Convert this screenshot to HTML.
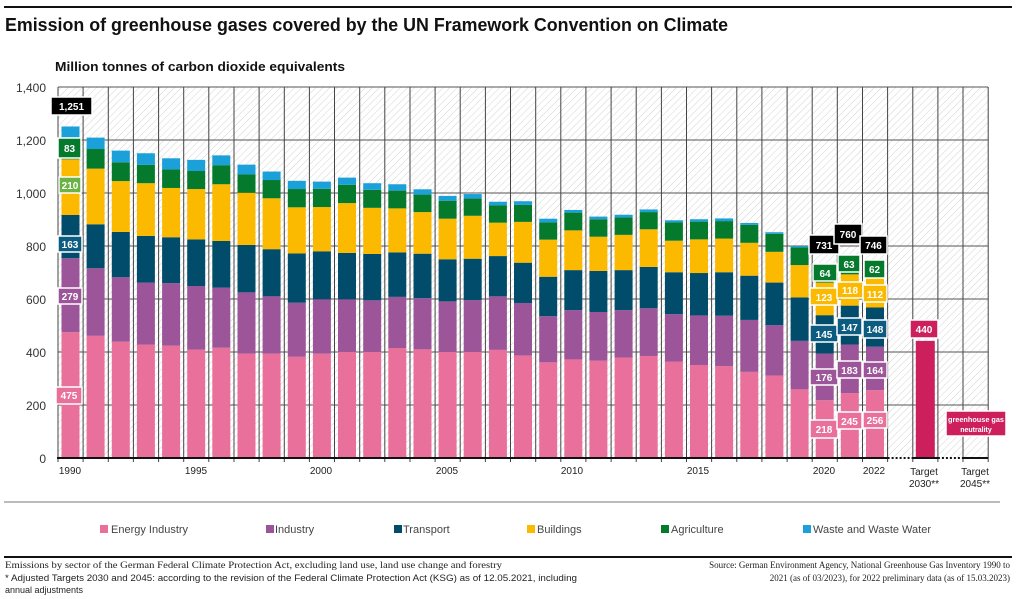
<!DOCTYPE html>
<html><head><meta charset="utf-8"><style>
html,body{margin:0;padding:0;background:#fff;}
svg{display:block;font-family:"Liberation Sans",sans-serif;}
.lb{font-size:10px;font-weight:bold;fill:#fff;text-anchor:middle;}
.ax{font-size:12px;fill:#333;text-anchor:end;}
.yr{font-size:10px;fill:#222;text-anchor:middle;}
.lg{font-size:11px;fill:#444;}
.ft{font-size:9px;fill:#222;}
</style></head><body>
<svg width="1024" height="599" viewBox="0 0 1024 599" xmlns="http://www.w3.org/2000/svg">
<defs>
<pattern id="h" width="5" height="5" patternUnits="userSpaceOnUse" patternTransform="rotate(45)">
<rect width="5" height="5" fill="#fff"/><line x1="0" y1="0" x2="0" y2="5" stroke="#d4d4d4" stroke-width="1"/>
</pattern>
</defs>
<line x1="4" y1="7" x2="1012" y2="7" stroke="#111" stroke-width="2"/>
<text x="5" y="31" font-size="18" font-weight="bold" fill="#111" textLength="723" lengthAdjust="spacingAndGlyphs">Emission of greenhouse gases covered by the UN Framework Convention on Climate</text>
<text x="55" y="71" font-size="13" font-weight="bold" fill="#111" textLength="290" lengthAdjust="spacingAndGlyphs">Million tonnes of carbon dioxide equivalents</text>

<rect x="58" y="87" width="930" height="371" fill="url(#h)"/>
<g stroke="#555" stroke-width="1">
<line x1="58" y1="87" x2="988" y2="87"/><line x1="58" y1="140" x2="988" y2="140"/><line x1="58" y1="193" x2="988" y2="193"/><line x1="58" y1="246" x2="988" y2="246"/><line x1="58" y1="299" x2="988" y2="299"/><line x1="58" y1="352" x2="988" y2="352"/><line x1="58" y1="405" x2="988" y2="405"/>
</g>
<g stroke="#444" stroke-width="1">
<line x1="58" y1="87" x2="58" y2="462"/><line x1="83.1" y1="87" x2="83.1" y2="462"/><line x1="108.3" y1="87" x2="108.3" y2="462"/><line x1="133.4" y1="87" x2="133.4" y2="462"/><line x1="158.6" y1="87" x2="158.6" y2="462"/><line x1="183.7" y1="87" x2="183.7" y2="462"/><line x1="208.8" y1="87" x2="208.8" y2="462"/><line x1="234" y1="87" x2="234" y2="462"/><line x1="259.1" y1="87" x2="259.1" y2="462"/><line x1="284.3" y1="87" x2="284.3" y2="462"/><line x1="309.4" y1="87" x2="309.4" y2="462"/><line x1="334.5" y1="87" x2="334.5" y2="462"/><line x1="359.7" y1="87" x2="359.7" y2="462"/><line x1="384.8" y1="87" x2="384.8" y2="462"/><line x1="410" y1="87" x2="410" y2="462"/><line x1="435.1" y1="87" x2="435.1" y2="462"/><line x1="460.2" y1="87" x2="460.2" y2="462"/><line x1="485.4" y1="87" x2="485.4" y2="462"/><line x1="510.5" y1="87" x2="510.5" y2="462"/><line x1="535.7" y1="87" x2="535.7" y2="462"/><line x1="560.8" y1="87" x2="560.8" y2="462"/><line x1="585.9" y1="87" x2="585.9" y2="462"/><line x1="611.1" y1="87" x2="611.1" y2="462"/><line x1="636.2" y1="87" x2="636.2" y2="462"/><line x1="661.4" y1="87" x2="661.4" y2="462"/><line x1="686.5" y1="87" x2="686.5" y2="462"/><line x1="711.6" y1="87" x2="711.6" y2="462"/><line x1="736.8" y1="87" x2="736.8" y2="462"/><line x1="761.9" y1="87" x2="761.9" y2="462"/><line x1="787.1" y1="87" x2="787.1" y2="462"/><line x1="812.2" y1="87" x2="812.2" y2="462"/><line x1="837.3" y1="87" x2="837.3" y2="462"/><line x1="862.5" y1="87" x2="862.5" y2="462"/><line x1="887.6" y1="87" x2="887.6" y2="462"/><line x1="912.8" y1="87" x2="912.8" y2="462"/><line x1="937.9" y1="87" x2="937.9" y2="462"/><line x1="963" y1="87" x2="963" y2="462"/><line x1="988.2" y1="87" x2="988.2" y2="462"/>
</g>

<g transform="translate(0,458) scale(1,-0.265)">
<g transform="translate(61.5,0)"><rect y="0" height="475" width="18" fill="#e8709a"/><rect y="475" height="279" width="18" fill="#9b5598"/><rect y="754" height="163" width="18" fill="#004c6a"/><rect y="917" height="210" width="18" fill="#fbb900"/><rect y="1127" height="83" width="18" fill="#067a2c"/><rect y="1210" height="41" width="18" fill="#1ba0d9"/></g>
<g transform="translate(86.6,0)"><rect y="0" height="461" width="18" fill="#e8709a"/><rect y="461" height="255" width="18" fill="#9b5598"/><rect y="716" height="166" width="18" fill="#004c6a"/><rect y="882" height="210" width="18" fill="#fbb900"/><rect y="1092" height="74" width="18" fill="#067a2c"/><rect y="1166" height="43" width="18" fill="#1ba0d9"/></g>
<g transform="translate(111.8,0)"><rect y="0" height="439" width="18" fill="#e8709a"/><rect y="439" height="243" width="18" fill="#9b5598"/><rect y="682" height="171" width="18" fill="#004c6a"/><rect y="853" height="192" width="18" fill="#fbb900"/><rect y="1045" height="71" width="18" fill="#067a2c"/><rect y="1116" height="44" width="18" fill="#1ba0d9"/></g>
<g transform="translate(136.9,0)"><rect y="0" height="428" width="18" fill="#e8709a"/><rect y="428" height="234" width="18" fill="#9b5598"/><rect y="662" height="176" width="18" fill="#004c6a"/><rect y="838" height="199" width="18" fill="#fbb900"/><rect y="1037" height="69" width="18" fill="#067a2c"/><rect y="1106" height="44" width="18" fill="#1ba0d9"/></g>
<g transform="translate(162.1,0)"><rect y="0" height="424" width="18" fill="#e8709a"/><rect y="424" height="236" width="18" fill="#9b5598"/><rect y="660" height="173" width="18" fill="#004c6a"/><rect y="833" height="186" width="18" fill="#fbb900"/><rect y="1019" height="70" width="18" fill="#067a2c"/><rect y="1089" height="42" width="18" fill="#1ba0d9"/></g>
<g transform="translate(187.2,0)"><rect y="0" height="409" width="18" fill="#e8709a"/><rect y="409" height="240" width="18" fill="#9b5598"/><rect y="649" height="176" width="18" fill="#004c6a"/><rect y="825" height="190" width="18" fill="#fbb900"/><rect y="1015" height="68" width="18" fill="#067a2c"/><rect y="1083" height="42" width="18" fill="#1ba0d9"/></g>
<g transform="translate(212.3,0)"><rect y="0" height="416" width="18" fill="#e8709a"/><rect y="416" height="227" width="18" fill="#9b5598"/><rect y="643" height="176" width="18" fill="#004c6a"/><rect y="819" height="214" width="18" fill="#fbb900"/><rect y="1033" height="72" width="18" fill="#067a2c"/><rect y="1105" height="37" width="18" fill="#1ba0d9"/></g>
<g transform="translate(237.5,0)"><rect y="0" height="394" width="18" fill="#e8709a"/><rect y="394" height="231" width="18" fill="#9b5598"/><rect y="625" height="179" width="18" fill="#004c6a"/><rect y="804" height="197" width="18" fill="#fbb900"/><rect y="1001" height="69" width="18" fill="#067a2c"/><rect y="1070" height="37" width="18" fill="#1ba0d9"/></g>
<g transform="translate(262.6,0)"><rect y="0" height="394" width="18" fill="#e8709a"/><rect y="394" height="216" width="18" fill="#9b5598"/><rect y="610" height="178" width="18" fill="#004c6a"/><rect y="788" height="192" width="18" fill="#fbb900"/><rect y="980" height="69" width="18" fill="#067a2c"/><rect y="1049" height="32" width="18" fill="#1ba0d9"/></g>
<g transform="translate(287.8,0)"><rect y="0" height="382" width="18" fill="#e8709a"/><rect y="382" height="204" width="18" fill="#9b5598"/><rect y="586" height="186" width="18" fill="#004c6a"/><rect y="772" height="174" width="18" fill="#fbb900"/><rect y="946" height="69" width="18" fill="#067a2c"/><rect y="1015" height="31" width="18" fill="#1ba0d9"/></g>
<g transform="translate(312.9,0)"><rect y="0" height="394" width="18" fill="#e8709a"/><rect y="394" height="205" width="18" fill="#9b5598"/><rect y="599" height="181" width="18" fill="#004c6a"/><rect y="780" height="167" width="18" fill="#fbb900"/><rect y="947" height="69" width="18" fill="#067a2c"/><rect y="1016" height="27" width="18" fill="#1ba0d9"/></g>
<g transform="translate(338,0)"><rect y="0" height="401" width="18" fill="#e8709a"/><rect y="401" height="198" width="18" fill="#9b5598"/><rect y="599" height="175" width="18" fill="#004c6a"/><rect y="774" height="188" width="18" fill="#fbb900"/><rect y="962" height="69" width="18" fill="#067a2c"/><rect y="1031" height="27" width="18" fill="#1ba0d9"/></g>
<g transform="translate(363.2,0)"><rect y="0" height="401" width="18" fill="#e8709a"/><rect y="401" height="194" width="18" fill="#9b5598"/><rect y="595" height="175" width="18" fill="#004c6a"/><rect y="770" height="174" width="18" fill="#fbb900"/><rect y="944" height="68" width="18" fill="#067a2c"/><rect y="1012" height="25" width="18" fill="#1ba0d9"/></g>
<g transform="translate(388.3,0)"><rect y="0" height="415" width="18" fill="#e8709a"/><rect y="415" height="193" width="18" fill="#9b5598"/><rect y="608" height="168" width="18" fill="#004c6a"/><rect y="776" height="166" width="18" fill="#fbb900"/><rect y="942" height="67" width="18" fill="#067a2c"/><rect y="1009" height="24" width="18" fill="#1ba0d9"/></g>
<g transform="translate(413.5,0)"><rect y="0" height="410" width="18" fill="#e8709a"/><rect y="410" height="193" width="18" fill="#9b5598"/><rect y="603" height="168" width="18" fill="#004c6a"/><rect y="771" height="157" width="18" fill="#fbb900"/><rect y="928" height="66" width="18" fill="#067a2c"/><rect y="994" height="20" width="18" fill="#1ba0d9"/></g>
<g transform="translate(438.6,0)"><rect y="0" height="401" width="18" fill="#e8709a"/><rect y="401" height="190" width="18" fill="#9b5598"/><rect y="591" height="159" width="18" fill="#004c6a"/><rect y="750" height="153" width="18" fill="#fbb900"/><rect y="903" height="68" width="18" fill="#067a2c"/><rect y="971" height="18" width="18" fill="#1ba0d9"/></g>
<g transform="translate(463.7,0)"><rect y="0" height="401" width="18" fill="#e8709a"/><rect y="401" height="195" width="18" fill="#9b5598"/><rect y="596" height="156" width="18" fill="#004c6a"/><rect y="752" height="162" width="18" fill="#fbb900"/><rect y="914" height="65" width="18" fill="#067a2c"/><rect y="979" height="17" width="18" fill="#1ba0d9"/></g>
<g transform="translate(488.9,0)"><rect y="0" height="408" width="18" fill="#e8709a"/><rect y="408" height="202" width="18" fill="#9b5598"/><rect y="610" height="152" width="18" fill="#004c6a"/><rect y="762" height="126" width="18" fill="#fbb900"/><rect y="888" height="66" width="18" fill="#067a2c"/><rect y="954" height="13" width="18" fill="#1ba0d9"/></g>
<g transform="translate(514,0)"><rect y="0" height="387" width="18" fill="#e8709a"/><rect y="387" height="198" width="18" fill="#9b5598"/><rect y="585" height="152" width="18" fill="#004c6a"/><rect y="737" height="154" width="18" fill="#fbb900"/><rect y="891" height="64" width="18" fill="#067a2c"/><rect y="955" height="14" width="18" fill="#1ba0d9"/></g>
<g transform="translate(539.2,0)"><rect y="0" height="361" width="18" fill="#e8709a"/><rect y="361" height="174" width="18" fill="#9b5598"/><rect y="535" height="149" width="18" fill="#004c6a"/><rect y="684" height="140" width="18" fill="#fbb900"/><rect y="824" height="65" width="18" fill="#067a2c"/><rect y="889" height="14" width="18" fill="#1ba0d9"/></g>
<g transform="translate(564.3,0)"><rect y="0" height="372" width="18" fill="#e8709a"/><rect y="372" height="186" width="18" fill="#9b5598"/><rect y="558" height="151" width="18" fill="#004c6a"/><rect y="709" height="150" width="18" fill="#fbb900"/><rect y="859" height="67" width="18" fill="#067a2c"/><rect y="926" height="10" width="18" fill="#1ba0d9"/></g>
<g transform="translate(589.4,0)"><rect y="0" height="367" width="18" fill="#e8709a"/><rect y="367" height="184" width="18" fill="#9b5598"/><rect y="551" height="155" width="18" fill="#004c6a"/><rect y="706" height="129" width="18" fill="#fbb900"/><rect y="835" height="66" width="18" fill="#067a2c"/><rect y="901" height="10" width="18" fill="#1ba0d9"/></g>
<g transform="translate(614.6,0)"><rect y="0" height="379" width="18" fill="#e8709a"/><rect y="379" height="179" width="18" fill="#9b5598"/><rect y="558" height="151" width="18" fill="#004c6a"/><rect y="709" height="133" width="18" fill="#fbb900"/><rect y="842" height="66" width="18" fill="#067a2c"/><rect y="908" height="10" width="18" fill="#1ba0d9"/></g>
<g transform="translate(639.7,0)"><rect y="0" height="385" width="18" fill="#e8709a"/><rect y="385" height="180" width="18" fill="#9b5598"/><rect y="565" height="156" width="18" fill="#004c6a"/><rect y="721" height="142" width="18" fill="#fbb900"/><rect y="863" height="65" width="18" fill="#067a2c"/><rect y="928" height="10" width="18" fill="#1ba0d9"/></g>
<g transform="translate(664.9,0)"><rect y="0" height="364" width="18" fill="#e8709a"/><rect y="364" height="179" width="18" fill="#9b5598"/><rect y="543" height="158" width="18" fill="#004c6a"/><rect y="701" height="119" width="18" fill="#fbb900"/><rect y="820" height="69" width="18" fill="#067a2c"/><rect y="889" height="8" width="18" fill="#1ba0d9"/></g>
<g transform="translate(690,0)"><rect y="0" height="351" width="18" fill="#e8709a"/><rect y="351" height="187" width="18" fill="#9b5598"/><rect y="538" height="160" width="18" fill="#004c6a"/><rect y="698" height="127" width="18" fill="#fbb900"/><rect y="825" height="67" width="18" fill="#067a2c"/><rect y="892" height="9" width="18" fill="#1ba0d9"/></g>
<g transform="translate(715.1,0)"><rect y="0" height="347" width="18" fill="#e8709a"/><rect y="347" height="190" width="18" fill="#9b5598"/><rect y="537" height="164" width="18" fill="#004c6a"/><rect y="701" height="127" width="18" fill="#fbb900"/><rect y="828" height="66" width="18" fill="#067a2c"/><rect y="894" height="10" width="18" fill="#1ba0d9"/></g>
<g transform="translate(740.3,0)"><rect y="0" height="325" width="18" fill="#e8709a"/><rect y="325" height="196" width="18" fill="#9b5598"/><rect y="521" height="167" width="18" fill="#004c6a"/><rect y="688" height="124" width="18" fill="#fbb900"/><rect y="812" height="68" width="18" fill="#067a2c"/><rect y="880" height="7" width="18" fill="#1ba0d9"/></g>
<g transform="translate(765.4,0)"><rect y="0" height="311" width="18" fill="#e8709a"/><rect y="311" height="190" width="18" fill="#9b5598"/><rect y="501" height="161" width="18" fill="#004c6a"/><rect y="662" height="116" width="18" fill="#fbb900"/><rect y="778" height="68" width="18" fill="#067a2c"/><rect y="846" height="6" width="18" fill="#1ba0d9"/></g>
<g transform="translate(790.6,0)"><rect y="0" height="259" width="18" fill="#e8709a"/><rect y="259" height="183" width="18" fill="#9b5598"/><rect y="442" height="164" width="18" fill="#004c6a"/><rect y="606" height="122" width="18" fill="#fbb900"/><rect y="728" height="67" width="18" fill="#067a2c"/><rect y="795" height="5" width="18" fill="#1ba0d9"/></g>
<g transform="translate(815.7,0)"><rect y="0" height="218" width="18" fill="#e8709a"/><rect y="218" height="176" width="18" fill="#9b5598"/><rect y="394" height="145" width="18" fill="#004c6a"/><rect y="539" height="123" width="18" fill="#fbb900"/><rect y="662" height="64" width="18" fill="#067a2c"/><rect y="726" height="5" width="18" fill="#1ba0d9"/></g>
<g transform="translate(840.8,0)"><rect y="0" height="245" width="18" fill="#e8709a"/><rect y="245" height="183" width="18" fill="#9b5598"/><rect y="428" height="147" width="18" fill="#004c6a"/><rect y="575" height="118" width="18" fill="#fbb900"/><rect y="693" height="63" width="18" fill="#067a2c"/><rect y="756" height="4" width="18" fill="#1ba0d9"/></g>
<g transform="translate(866,0)"><rect y="0" height="256" width="18" fill="#e8709a"/><rect y="256" height="164" width="18" fill="#9b5598"/><rect y="420" height="148" width="18" fill="#004c6a"/><rect y="568" height="112" width="18" fill="#fbb900"/><rect y="680" height="62" width="18" fill="#067a2c"/><rect y="742" height="4" width="18" fill="#1ba0d9"/></g>
<rect x="915.8" y="0" height="442" width="19" fill="#cc1f5c"/>
</g>

<line x1="57" y1="458" x2="887.6" y2="458" stroke="#111" stroke-width="2"/>
<line x1="887.6" y1="458" x2="912.8" y2="458" stroke="#111" stroke-width="2" stroke-dasharray="2,2"/>
<line x1="912.8" y1="458" x2="937.9" y2="458" stroke="#111" stroke-width="2"/>
<line x1="937.9" y1="458" x2="963" y2="458" stroke="#111" stroke-width="2" stroke-dasharray="2,2"/>
<line x1="963" y1="458" x2="988.2" y2="458" stroke="#111" stroke-width="2"/>

<g class="ax">
<text x="46" y="92">1,400</text><text x="46" y="145">1,200</text><text x="46" y="198">1,000</text><text x="46" y="251">800</text><text x="46" y="304">600</text><text x="46" y="357">400</text><text x="46" y="410">200</text><text x="46" y="463">0</text>
</g>
<g class="yr">
<text x="70" y="474">1990</text><text x="196" y="474">1995</text><text x="321" y="474">2000</text><text x="447" y="474">2005</text><text x="572" y="474">2010</text><text x="698" y="474">2015</text><text x="824" y="474">2020</text><text x="874" y="474">2022</text>
<text x="924" y="475">Target</text><text x="924" y="487">2030**</text><text x="975" y="475">Target</text><text x="975" y="487">2045**</text>
</g>

<g stroke="#fff" stroke-width="1.5">
<rect x="51" y="97" width="41" height="18" fill="#000"/>
<rect x="58" y="138" width="23" height="20" fill="#067a2c"/>
<rect x="59" y="177" width="22" height="16" fill="#6ab344"/>
<rect x="58" y="236" width="24" height="16" fill="#0b5c80"/>
<rect x="58" y="288" width="24" height="16" fill="#9b5598"/>
<rect x="56" y="387" width="26" height="17" fill="#e8709a"/>
<rect x="809" y="235" width="30" height="19" fill="#000"/>
<rect x="834" y="224" width="28" height="20" fill="#000"/>
<rect x="860" y="236" width="27" height="18" fill="#000"/>
<rect x="813" y="264" width="24" height="17" fill="#067a2c"/>
<rect x="838" y="255" width="22" height="17" fill="#067a2c"/>
<rect x="864" y="260" width="21" height="18" fill="#067a2c"/>
<rect x="810" y="288" width="28" height="17" fill="#fbb900"/>
<rect x="837" y="282" width="26" height="16" fill="#fbb900"/>
<rect x="863" y="285" width="24" height="17" fill="#fbb900"/>
<rect x="810" y="325" width="28" height="17" fill="#0b5c80"/>
<rect x="837" y="318" width="25" height="17" fill="#0b5c80"/>
<rect x="863" y="320" width="24" height="18" fill="#0b5c80"/>
<rect x="810" y="369" width="28" height="16" fill="#9b5598"/>
<rect x="837" y="361" width="25" height="17" fill="#9b5598"/>
<rect x="863" y="362" width="24" height="16" fill="#9b5598"/>
<rect x="810" y="420" width="28" height="18" fill="#e8709a"/>
<rect x="837" y="412" width="25" height="17" fill="#e8709a"/>
<rect x="863" y="412" width="24" height="16" fill="#e8709a"/>
<rect x="910" y="320" width="28" height="18" fill="#cc1f5c"/>
<rect x="946" y="411" width="60" height="25" fill="#cc1f5c"/>
</g>
<g class="lb">
<text x="71.5" y="110">1,251</text>
<text x="69.5" y="152">83</text>
<text x="70" y="189">210</text>
<text x="70" y="248">163</text>
<text x="70" y="300">279</text>
<text x="69" y="399">475</text>
<text x="824" y="249">731</text><text x="848" y="238">760</text><text x="873.5" y="249">746</text>
<text x="825" y="277">64</text><text x="849" y="268">63</text><text x="874.5" y="273">62</text>
<text x="824" y="301">123</text><text x="850" y="294">118</text><text x="875" y="298">112</text>
<text x="824" y="338">145</text><text x="849.5" y="331">147</text><text x="875" y="333">148</text>
<text x="824" y="381">176</text><text x="849.5" y="374">183</text><text x="875" y="374">164</text>
<text x="824" y="433">218</text><text x="849.5" y="425">245</text><text x="875" y="424">256</text>
<text x="924" y="333">440</text>
<text x="976" y="422" font-size="7" textLength="56" lengthAdjust="spacingAndGlyphs">greenhouse gas</text>
<text x="976" y="432" font-size="7">neutrality</text>
</g>

<line x1="4" y1="502" x2="1000" y2="502" stroke="#777" stroke-width="1"/>
<rect x="100" y="525" width="8" height="8" fill="#e8709a"/><text class="lg" x="111" y="533">Energy Industry</text>
<rect x="266" y="525" width="8" height="8" fill="#9b5598"/><text class="lg" x="275" y="533">Industry</text>
<rect x="394" y="525" width="8" height="8" fill="#004c6a"/><text class="lg" x="403" y="533">Transport</text>
<rect x="527" y="525" width="8" height="8" fill="#fbb900"/><text class="lg" x="537" y="533">Buildings</text>
<rect x="661" y="525" width="8" height="8" fill="#067a2c"/><text class="lg" x="671" y="533">Agriculture</text>
<rect x="803" y="525" width="8" height="8" fill="#1ba0d9"/><text class="lg" x="813" y="533">Waste and Waste Water</text>

<line x1="4" y1="557" x2="1012" y2="557" stroke="#111" stroke-width="2"/>
<text class="ft" x="5" y="568" font-family="Liberation Serif, serif" textLength="497" lengthAdjust="spacingAndGlyphs">Emissions by sector of the German Federal Climate Protection Act, excluding land use, land use change and forestry</text>
<text class="ft" x="5" y="581" textLength="572" lengthAdjust="spacingAndGlyphs">* Adjusted Targets 2030 and 2045: according to the revision of the Federal Climate Protection Act (KSG) as of 12.05.2021, including</text>
<text class="ft" x="5" y="593">annual adjustments</text>
<text class="ft" x="1010" y="568" text-anchor="end" font-family="Liberation Serif, serif">Source: German Environment Agency, National Greenhouse Gas Inventory  1990 to</text>
<text class="ft" x="1010" y="581" text-anchor="end" font-family="Liberation Serif, serif">2021 (as of 03/2023), for 2022 preliminary data (as of 15.03.2023)</text>
</svg>
</body></html>
